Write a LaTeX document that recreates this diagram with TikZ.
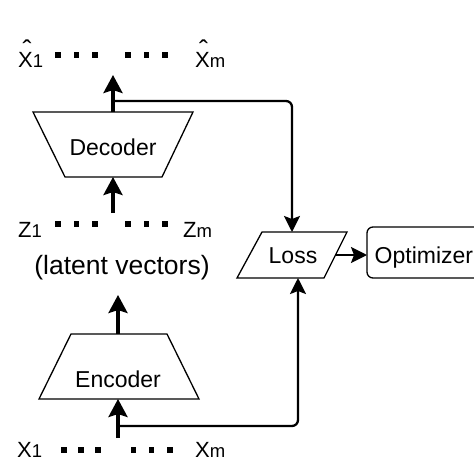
\documentclass[tikz,border=0pt]{standalone}
\usepackage{fontspec}
\setmainfont{Liberation Sans}
\usetikzlibrary{arrows.meta}
\newcommand\sbs[1]{{\fontsize{18.5}{18.5}\selectfont #1}}
\newcommand\hatover[2]{\makebox[0pt][l]{\hspace*{#1}\raisebox{#2}{\fontsize{27}{27}\selectfont ˆ}}}
\tikzset{
  lbl/.style={inner sep=0pt, anchor=base, font=\fontsize{23}{23}\selectfont},
  rowlbl/.style={inner sep=0pt, anchor=base west, font=\fontsize{22}{22}\selectfont},
  shapeline/.style={line width=1.3pt, line join=miter},
  bigarrow/.style={line width=3.4pt, -{Stealth[length=18pt,width=19pt,inset=3pt]}},
  conn/.style={line width=2.3pt, rounded corners=6pt, -{Stealth[length=16pt,width=16pt,inset=3pt]}},
  sq/.style={fill=black},
}
\begin{document}
\begin{tikzpicture}[x=1pt,y=-1pt]
\useasboundingbox (0,0) rectangle (474,474);
\clip (0,0) rectangle (474,474);

% ---- rows of vectors ----
\node[rowlbl] (xh1) at (18,67) {\hatover{4.5pt}{7.5pt}X\sbs{1}};
\node[rowlbl] (xhm) at (195,67) {\hatover{4pt}{7.5pt}X\sbs{m}};
\foreach \x in {58,76.5,95,128,146.5,165} \fill[sq] (\x-2.6,55-2.6) rectangle (\x+2.6,55+2.6);

\node[rowlbl] (z1) at (18,237) {Z\sbs{1}};
\node[rowlbl] (zm) at (183,237) {Z\sbs{m}};
\foreach \x in {58,76.5,95,128,146.5,165} \fill[sq] (\x-2.6,224-2.6) rectangle (\x+2.6,224+2.6);

\node[lbl, font=\fontsize{26.5}{26.5}\selectfont] (lat) at (122,274) {(latent vectors)};

\node[rowlbl] (x1) at (17,457) {X\sbs{1}};
\node[rowlbl] (xm) at (195,457) {X\sbs{m}};
\foreach \x in {64,81,98,133.3,151.7,170} \fill[sq] (\x-2.6,450-2.6) rectangle (\x+2.6,450+2.6);

% ---- decoder ----
\draw[shapeline] (33,112) -- (193,112) -- (162,177) -- (65,177) -- cycle;
\node[lbl] (dec) at (113,155) {Decoder};
\coordinate (decT) at (113,112);
\coordinate (decB) at (113,177);

% ---- encoder ----
\draw[shapeline] (71,334) -- (167,334) -- (199,399) -- (39,399) -- cycle;
\node[lbl] (enc) at (118,387) {Encoder};
\coordinate (encT) at (118,334);
\coordinate (encB) at (118,399);

% ---- loss ----
\draw[shapeline] (262,232) -- (347,232) -- (324,278) -- (237,278) -- cycle;
\node[lbl] (loss) at (293,263) {Loss};
\coordinate (lossT) at (292,232);
\coordinate (lossB) at (298,278);
\coordinate (lossR) at (336,255);

% ---- optimizer ----
\draw[shapeline, rounded corners=6pt] (367,227) rectangle (530,278);
\node[lbl, anchor=base west] (opt) at (374.5,263) {Optimizer};
\coordinate (optL) at (367,255);

% ---- connectors ----
\coordinate (zT) at (113,213);
\coordinate (xhB) at (113,75);
\coordinate (encIn) at (118,438);
\coordinate (latB) at (118,295);
\coordinate (br1) at (113,101);
\coordinate (br2) at (118,426);

\draw[bigarrow] (zT) -- (decB);
\draw[bigarrow] (decT) -- (xhB);
\draw[bigarrow] (encT) -- (latB);
\draw[bigarrow] (encIn) -- (encB);

\draw[conn] (br1) -| (lossT);
\draw[conn] (br2) -| (lossB);
\draw[line width=2.3pt, -{Stealth[length=16pt,width=16pt,inset=3pt]}] (lossR) -- (optL);
\end{tikzpicture}
\end{document}
